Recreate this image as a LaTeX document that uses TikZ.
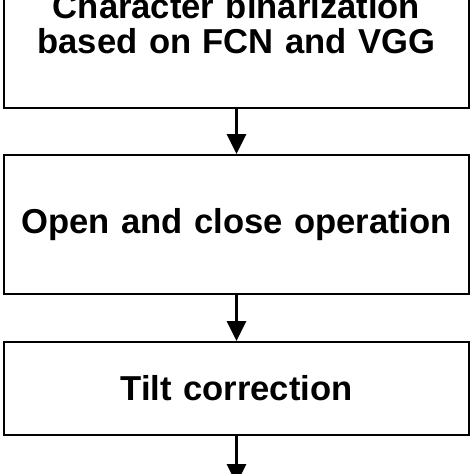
\documentclass[tikz,border=0pt]{standalone}
\usepackage{fontspec}
\setmainfont{Liberation Sans}
\usetikzlibrary{arrows.meta}
\begin{document}
\begin{tikzpicture}[x=1pt,y=-1pt,
  stepbox/.style={draw=black, line width=2pt, fill=white, inner sep=0pt,
    minimum width=465pt, text width=455pt, align=center,
    font=\bfseries\fontsize{34.6}{35}\selectfont},
  flowarrow/.style={line width=3pt, -{Triangle[width=19pt,length=20pt]}}]
\useasboundingbox (0,0) rectangle (474,474);
\clip (0,0) rectangle (474,474);
\fill[white] (0,0) rectangle (474,474);
\node[stepbox, minimum height=169pt] (b1) at (236.5,23.5) {Character binarization\\based on FCN and VGG};
\node[stepbox, minimum height=139pt] (b2) at (236.5,224.5) {Open and close operation};
\node[stepbox, minimum height=93pt] (b3) at (236.5,388.5) {Tilt correction};
\coordinate (end) at (236.5,484);
\draw[flowarrow] (b1.south) -- (b2.north);
\draw[flowarrow] (b2.south) -- (b3.north);
\draw[flowarrow] (b3.south) -- (end);
\end{tikzpicture}
\end{document}
